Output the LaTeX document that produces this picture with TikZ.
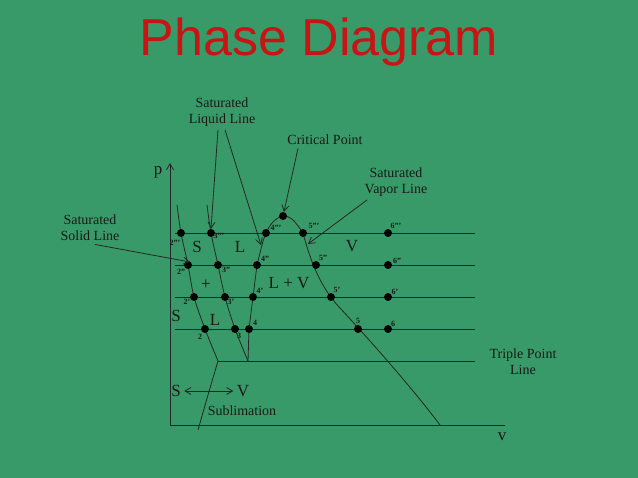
\documentclass[tikz,border=0pt]{standalone}
\usepackage{fontspec}
\setmainfont{Liberation Serif}
\newfontfamily\titlefont{Liberation Sans}
\usetikzlibrary{arrows.meta}
\begin{document}
\begin{tikzpicture}[x=1pt,y=-1pt,
  ln/.style={draw=black!85, line width=0.8pt},
  dot/.style={circle,fill=black,inner sep=0pt,minimum size=8pt},
  lbl/.style={font=\fontsize{14}{16}\selectfont, align=center, text=black!90},
  sm/.style={font=\fontsize{8}{9}\selectfont\bfseries, text=black!90},
  big/.style={font=\fontsize{17}{18}\selectfont, text=black!90},
  arr/.style={ln,-{Straight Barb[length=6pt,width=7pt]}}]
\fill[fill={rgb,255:red,56;green,154;blue,104}] (0,0) rectangle (638,478);
\node[font=\titlefont\fontsize{52}{56}\selectfont, text={rgb,255:red,200;green,20;blue,20}] (title) at (319,42) {Phase Diagram};
% axes
\coordinate (o) at (170,425);
\coordinate (py) at (170,163);
\coordinate (vx) at (505,425);
\draw[arr] (o) -- (py);
\draw[ln] (o) -- (vx);
\node[big] (p) at (158,172) {p};
\node[big] (v) at (502,437) {v};
% rows
\foreach \y in {233,265,297,329} \draw[ln] (175,\y) -- (475,\y);
\coordinate (tpa) at (218,361); \coordinate (tpb) at (475,361);
\draw[ln] (tpa) -- (tpb);
% curves
\draw[ln] plot[smooth] coordinates {(177,205) (181,233) (188,265) (194,297) (205,329) (218,361)};
\draw[ln] plot[smooth] coordinates {(218,361) (208,395) (198,430)};
\draw[ln] plot[smooth] coordinates {(207,205) (211,233) (218,265) (225,297) (235,329) (248,361)};
\draw[ln] (248,361) -- (249,329) -- (253,297) -- (257,265) -- (262,245);
\draw[ln] plot[smooth,tension=0.6] coordinates {(262,245) (266,233) (273,222) (283,216) (293,220) (303,233)};
\draw[ln] (303,233) .. controls (309,255) and (318,285) .. (340,308) .. controls (365,335) and (410,385) .. (440,425);
% dots
\foreach \n/\x/\y in {a2/205/329, a3/235/329, a4/249/329, a5/358/329, a6/388/329,
 b2/194/297, b3/225/297, b4/253/297, b5/331/297, b6/388/297,
 c2/188/265, c3/218/265, c4/257/265, c5/316/265, c6/388/265,
 d2/181/233, d3/211/233, d4/266/233, d5/303/233, d6/388/233}
  \node[dot] (\n) at (\x,\y) {};
\node[dot] (cp) at (283,216) {};
% small labels
\node[sm] at (200,337) {2};
\node[sm] at (239,336) {3};
\node[sm] at (255,323) {4};
\node[sm] at (358,321) {5};
\node[sm] at (393,324) {6};
\node[sm] at (187,302) {2'};
\node[sm] at (231,302) {3'};
\node[sm] at (260,291) {4'};
\node[sm] at (337,290) {5'};
\node[sm] at (395,292) {6'};
\node[sm] at (181,272) {2''};
\node[sm] at (226,270) {3''};
\node[sm] at (265,259) {4''};
\node[sm] at (323,258) {5''};
\node[sm] at (397,261) {6''};
\node[sm] at (175,243) {2'''};
\node[sm] at (219,236) {3'''};
\node[sm] at (276,228) {4'''};
\node[sm] at (314,226) {5'''};
\node[sm] at (396,226) {6'''};
% region labels
\node[big] at (197,247) {S};
\node[big] at (240,247) {L};
\node[big] at (352,246) {V};
\node[big] at (206,285) {+};
\node[big] at (289,283) {L + V};
\node[big] at (176,316) {S};
\node[big] at (215,320) {L};
\node[big] (sS) at (176,391) {S};
\node[big] (sV) at (243,391) {V};
\draw[arr,{Straight Barb[length=6pt,width=7pt]}-{Straight Barb[length=6pt,width=7pt]}] (sS.east) -- (sV.west);
\node[lbl] (subl) at (242,411) {Sublimation};
% annotations
\node[lbl] (sll) at (222,112) {Saturated\\Liquid Line};
\draw[arr] (sll.south) ++(-4,0) -- (d3.north);
\draw[arr] (sll.south) ++(3,0) -- (261,245);
\node[lbl] (cpt) at (325,140) {Critical Point};
\draw[arr] (cpt.south) ++(-27,0) -- (cp);
\node[lbl] (svl) at (396,182) {Saturated\\Vapor Line};
\draw[arr] (svl.south west) ++(6,0) -- (308,244);
\node[lbl] (ssl) at (90,228) {Saturated\\Solid Line};
\draw[arr] (ssl.south) ++(5,0) -- (190,262);
\node[lbl] (tpl) at (523,362) {Triple Point\\Line};
\end{tikzpicture}
\end{document}
